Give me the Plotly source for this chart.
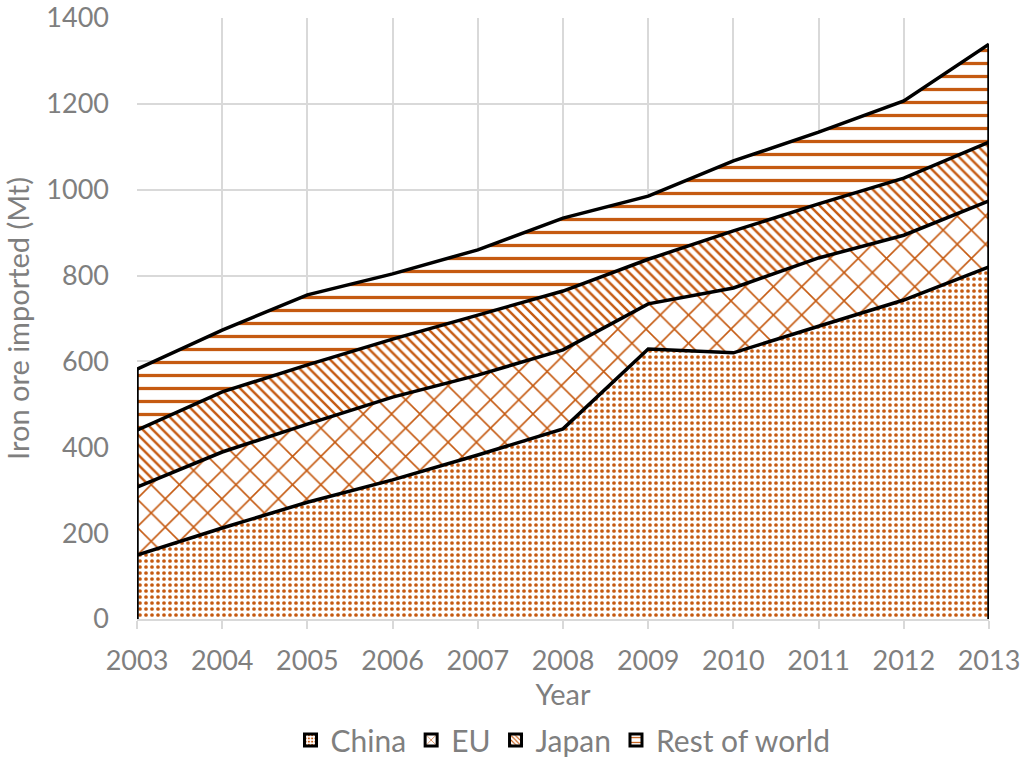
import plotly.graph_objects as go

# Iron ore imports by region (Mt)
years = [2003, 2004, 2005, 2006, 2007, 2008, 2009, 2010, 2011, 2012, 2013]
china = [149, 212, 272, 324, 382, 443, 629, 620, 682, 743, 820]
eu = [158, 177, 182, 193, 186, 184, 105, 151, 159, 151, 154]
japan = [133, 140, 138, 135, 140, 137, 104, 133, 126, 133, 137]
rest_of_world = [142, 144, 163, 152, 152, 170, 147, 163, 167, 180, 228]

series = [
    ("China", china, dict(shape=".", size=6, solidity=0.3)),
    ("EU", eu, dict(shape="x", size=20, solidity=0.15)),
    ("Japan", japan, dict(shape="\\", size=7, solidity=0.35)),
    ("Rest of world", rest_of_world, dict(shape="-", size=13, solidity=0.25)),
]

orange = "#C55A11"
grey_text = "#7F7F7F"

fig = go.Figure()

for name, vals, pat in series:
    fig.add_trace(go.Scatter(
        x=years, y=vals, name=name,
        mode="lines", stackgroup="one",
        line=dict(color="black", width=3.5),
        fillpattern=dict(fgcolor=orange, bgcolor="white", fgopacity=1, **pat),
        fillcolor="white",
        showlegend=False,
    ))

# vertical edges of the stacked area at both ends
totals = [a + b + c + d for a, b, c, d in zip(china, eu, japan, rest_of_world)]
for i in (0, -1):
    fig.add_trace(go.Scatter(
        x=[years[i], years[i]], y=[0, totals[i]],
        mode="lines", line=dict(color="black", width=3.5),
        showlegend=False, hoverinfo="skip",
    ))

# legend entries: patterned boxes with black borders
for name, vals, pat in series:
    fig.add_trace(go.Bar(
        x=[None], y=[None], name=name,
        marker=dict(color="white", line=dict(color="black", width=3),
                    pattern=dict(fgcolor=orange, bgcolor="white", fgopacity=1,
                                 shape=pat["shape"], size=max(4, pat["size"] // 2),
                                 solidity=pat["solidity"])),
    ))

fig.update_layout(
    width=1024, height=759,
    paper_bgcolor="white", plot_bgcolor="white",
    margin=dict(l=137, r=35, t=18, b=140),
    font=dict(family="Lato, Open Sans, sans-serif", color=grey_text, size=27),
    legend=dict(orientation="h", x=0.5, xanchor="center",
                yref="container", y=0.025, yanchor="middle",
                font=dict(size=30, color=grey_text),
                traceorder="normal"),
    xaxis=dict(
        title=dict(text="Year", font=dict(size=29, color=grey_text), standoff=4),
        range=[2003, 2013], tickvals=years,
        showgrid=True, gridcolor="#D9D9D9", gridwidth=2,
        showline=True, linecolor="#D9D9D9", linewidth=2,
        ticks="outside", ticklen=8, tickcolor="#D9D9D9", tickwidth=2,
        tickfont=dict(size=27, color=grey_text), ticklabelstandoff=9,
        ticklabeloverflow="allow",
        zeroline=False, automargin=False,
    ),
    yaxis=dict(
        title=dict(text="Iron ore imported (Mt)", font=dict(size=29, color=grey_text), standoff=18),
        range=[0, 1400], dtick=200,
        showgrid=True, gridcolor="#D9D9D9", gridwidth=2,
        showline=False, zeroline=False,
        tickfont=dict(size=27, color=grey_text),
        ticks="", ticklabelstandoff=27, ticklabeloverflow="allow",
        automargin=False,
    ),
)

# drop the default 8px page margin so the figure sits at the window corner
fig.write_html("out.html", config={"displayModeBar": False},
               post_script="document.body.style.margin='0';")
